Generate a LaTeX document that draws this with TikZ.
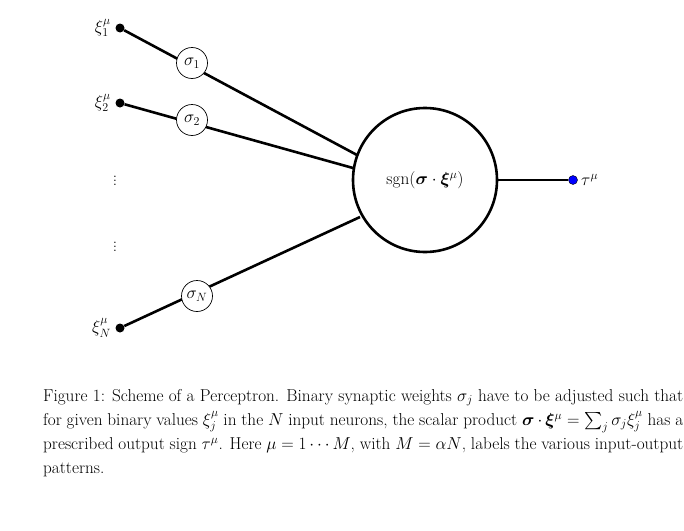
\documentclass[tikz,border=0pt]{standalone}
\usepackage{amsmath,amssymb,bm}
\usetikzlibrary{positioning}
\begin{document}
\begin{tikzpicture}[x=1pt,y=-1pt,
  wire/.style={line width=2.6pt},
  syn/.style={circle,draw,line width=0.7pt,fill=white,minimum size=31pt,inner sep=0pt,font=\fontsize{17}{20}\selectfont},
  dotnode/.style={circle,fill=black,minimum size=9pt,inner sep=0pt},
  lab/.style={font=\fontsize{17}{20}\selectfont}]
\useasboundingbox (0,0) rectangle (684,530);
\node[circle,draw,line width=2.6pt,minimum size=144pt,inner sep=0pt,font=\fontsize{18}{20}\selectfont] (P) at (425,180) {$\operatorname{sgn}(\bm{\sigma}\cdot\bm{\xi}^{\mu})$};
\node[dotnode] (x1) at (120,28) {};
\node[dotnode] (x2) at (120,103) {};
\node[dotnode] (xN) at (120,328) {};
\node[lab,left=1pt of x1] {$\xi_1^{\mu}$};
\node[lab,left=1pt of x2] {$\xi_2^{\mu}$};
\node[lab,left=1pt of xN] {$\xi_N^{\mu}$};
\node[lab] (v1) at (115,178) {$\vdots$};
\node[lab] (v2) at (115,244) {$\vdots$};
\coordinate (e1) at (357,155);
\coordinate (e2) at (353,168);
\coordinate (eN) at (360,217);
\draw[wire] (x1) -- (e1);
\draw[wire] (x2) -- (e2);
\draw[wire] (xN) -- (eN);
\node[syn] (s1) at (192,63) {$\sigma_1$};
\node[syn] (s2) at (192,120) {$\sigma_2$};
\node[syn] (sN) at (197,296) {$\sigma_N$};
\node[circle,fill=blue,draw=black,minimum size=9pt,inner sep=0pt] (out) at (573,180) {};
\draw[wire] (P) -- (out);
\node[lab,right=0pt of out] {$\tau^{\mu}$};
\node[anchor=north west,text width=640pt,align=justify,inner sep=0pt,font=\fontsize{17.2}{24}\selectfont] (cap) at (43,389)
{Figure 1: Scheme of a Perceptron. Binary synaptic weights $\sigma_j$ have to be adjusted such that for given binary values $\xi_j^{\mu}$ in the $N$ input neurons, the scalar product $\bm{\sigma}\cdot\bm{\xi}^{\mu}=\sum_j\sigma_j\xi_j^{\mu}$ has a prescribed output sign $\tau^{\mu}$. Here $\mu=1\cdots M$, with $M=\alpha N$, labels the various input-output patterns.};
\end{tikzpicture}
\end{document}
